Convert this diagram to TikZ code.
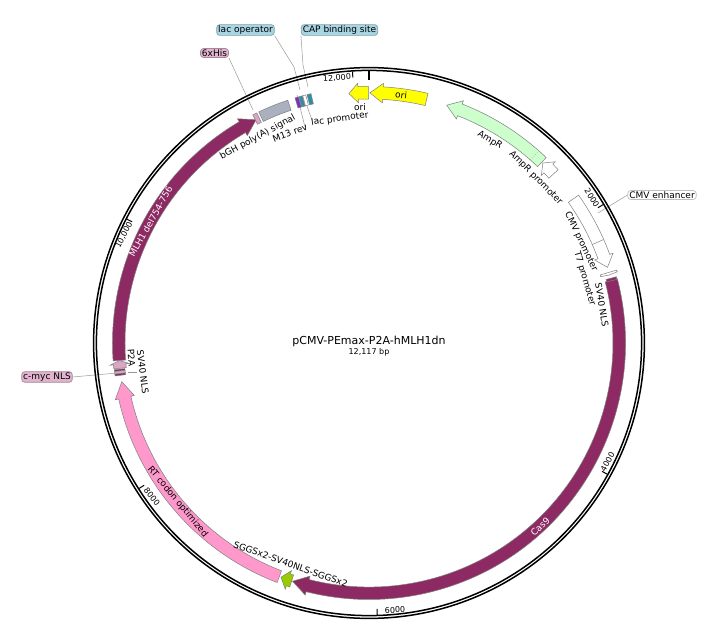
\documentclass[tikz,border=0pt]{standalone}
\usepackage{fontspec}
\setmainfont{DejaVu Sans}
\definecolor{cas9purple}{RGB}{142, 42, 99}
\definecolor{rtpink}{RGB}{255, 153, 204}
\definecolor{nlspink}{RGB}{217, 167, 196}
\definecolor{oriyellow}{RGB}{255, 255, 0}
\definecolor{amprgreen}{RGB}{204, 255, 204}
\definecolor{linkergreen}{RGB}{153, 204, 0}
\definecolor{polyagray}{RGB}{170, 176, 190}
\definecolor{m13violet}{RGB}{123, 47, 191}
\definecolor{lacteal}{RGB}{47, 142, 166}
\definecolor{tagblue}{RGB}{168, 213, 226}
\definecolor{tagpink}{RGB}{224, 180, 206}
\tikzset{
  feature/.style={draw=gray, line width=0.5pt},
  ringline/.style={draw=black, line width=1.5pt},
  leader/.style={draw=gray!80, line width=0.5pt},
  tagbox/.style={draw=#1!75!black, fill=#1, rounded corners=3pt, line width=0.7pt, inner xsep=1.5pt, inner ysep=1pt, font=\fontsize{9pt}{10pt}\selectfont},
  ticklabel/.style={font=\fontsize{8pt}{9pt}\selectfont, inner sep=0pt},
  featlabel/.style={font=\fontsize{9pt}{10pt}\selectfont, inner sep=0pt}
}
% tail, head base, tip
\newcommand{\featarrow}[4]{%
  \filldraw[feature, fill=#1] (#2:256.5) arc[start angle=#2, end angle=#3, radius=256.5pt] -- (#3:260) -- (#4:250.2) -- (#3:240.5) -- (#3:244) arc[start angle=#3, end angle=#2, radius=244pt] -- cycle;
}
\newcommand{\featband}[3]{%
  \filldraw[feature, fill=#1] (#2:256) arc[start angle=#2, end angle=#3, radius=256pt] -- (#3:245.5) arc[start angle=#3, end angle=#2, radius=245.5pt] -- cycle;
}

\begin{document}
\begin{tikzpicture}[x=1pt, y=1pt]
  \useasboundingbox (-369,-297) rectangle (351,343);
  \fill[white] (-369,-297) rectangle (351,343);

  % Callouts
  \node[tagbox=tagblue] (lacoperator) at (-123.5,313) {lac operator};
  \node[tagbox=tagblue] (capsite) at (-29.5,313) {CAP binding site};
  \node[tagbox=tagpink] (hishis) at (-154.5,290) {6xHis};
  \node[tagbox=white] (cmvenhancer) at (293,148) {CMV enhancer};
  \node[tagbox=tagpink] (cmycnls) at (-322,-34) {c-myc NLS};

  \coordinate (lacbend) at (-75,276);
  \coordinate (lacpin) at (-69,253);
  \coordinate (capbend) at (-66,278);
  \coordinate (cappin) at (-61,256);
  \coordinate (hispin) at (-116,233);
  \coordinate (enhpin) at (229,130);
  \coordinate (cmycpin) at (-252,-30);
  \coordinate (m13top) at (-72,248);
  \coordinate (m13end) at (-64,216);
  \coordinate (promtop) at (-66,248);
  \coordinate (promend) at (-57,223);
  \coordinate (t7in) at (234,67);
  \coordinate (t7out) at (249,72);
  \coordinate (sv40in) at (-241,-29);
  \coordinate (sv40out) at (-232,-29);

  \draw[leader] (lacoperator.south east) -- (lacbend) -- (lacpin);
  \draw[leader] (capsite.south west) -- (capbend) -- (cappin);
  \draw[leader] (hishis.south east) -- (hispin);
  \draw[leader] (cmvenhancer.west) -- (enhpin);
  \draw[leader] (cmycnls.east) -- (cmycpin);
  \draw[leader] (m13top) -- (m13end);
  \draw[leader] (promtop) -- (promend);
  \draw[leader] (t7in) -- (t7out);
  \draw[leader] (sv40in) -- (sv40out);

  % Backbone
  \draw[ringline] (0,0) circle (272.6pt);
  \draw[ringline] (0,0) circle (275.4pt);
  \foreach \bp in {2000,4000,6000,8000,10000,12000} {
    \draw[black, line width=1pt] ({90-\bp/12117*360}:272) -- ({90-\bp/12117*360}:266);
  }
  \draw[black, line width=1.5pt] (90:272) -- (90:263);
  \node[ticklabel, rotate=-58] (tick2000) at (223,145) {2000};
  \node[ticklabel, rotate=61] (tick4000) at (238.5,-119) {4000};
  \node[ticklabel, rotate=2] (tick6000) at (26,-267) {6000};
  \node[ticklabel, rotate=-52] (tick8000) at (-217,-154) {8000};
  \node[ticklabel, rotate=63] (tick10000) at (-245,108) {10,000};
  \node[ticklabel, rotate=4] (tick12000) at (-32,265) {12,000};

  % Features
  \featarrow{cas9purple}{14.5}{-104.2}{-107.8}
  \featband{cas9purple}{15}{14.4}
  \featarrow{cas9purple}{184}{120.4}{116.8}
  \featband{nlspink}{116}{117}
  \featband{polyagray}{115.5}{108.5}
  \featband{m13violet}{106.8}{106}
  \featband{lacteal}{105.9}{105.1}
  \featband{white}{105}{104.3}
  \featband{lacteal}{104}{103.1}
  \featarrow{oriyellow}{76.7}{86.8}{89.8}
  \featarrow{oriyellow}{90.1}{92.5}{94.6}
  \featarrow{amprgreen}{46.3}{68.7}{71.9}
  \draw[gray, line width=0.5pt, dotted] (48.6:244) -- (48.6:256.5);
  \featarrow{white}{42.5}{44.2}{46}
  \featarrow{white}{35.2}{20.2}{17.6}
  \draw[feature] (23.8:244) -- (23.8:256.5);
  \filldraw[feature, fill=white] (16.4:241) -- (16.4:258) -- (16:258) -- (15.8:249) -- (16:241) -- cycle;
  \featarrow{nlspink}{185.8}{184.9}{184}
  \featband{cas9purple}{186}{186.4}
  \featband{nlspink}{186.4}{187}
  \featband{cas9purple}{187}{187.4}
  \featarrow{rtpink}{249}{192.6}{188.9}
  \featarrow{linkergreen}{252}{251.2}{249.4}

  % Feature labels
  \node[featlabel, rotate=-7.4] (oriarrow) at (82.6:250) {ori};
  \node[featlabel, rotate=60.9, text=white] (mlh1) at (150.9:250) {MLH1 del754-756};
  \node[featlabel, rotate=-50.3] (rtcodon) at (219.7:248.7) {RT codon optimized};
  \node[featlabel, rotate=43, text=white] (cas9) at (313:251) {Cas9};
  \node[featlabel, rotate=28.4] (bgh) at (118.4:234) {bGH poly(A) signal};
  \node[featlabel, rotate=20.6] (m13rev) at (110.6:224.5) {M13 rev};
  \node[featlabel, rotate=7.4] (lacpromoter) at (97.4:226) {lac promoter};
  \node[featlabel, rotate=-30.8] (ampr) at (59.2:236) {AmpR};
  \node[featlabel, rotate=-45.3] (amprpromoter) at (44.7:234.6) {AmpR promoter};
  \node[featlabel, rotate=-64.5] (cmvpromoter) at (25.5:235) {CMV promoter};
  \node[featlabel, rotate=-73.4] (t7promoter) at (16.6:225) {T7 promoter};
  \node[featlabel, rotate=-80.7] (sv40right) at (9.3:236) {SV40 NLS};
  \node[featlabel, rotate=-82.7] (sv40left) at (187.3:228) {SV40 NLS};
  \node[featlabel, rotate=-86.5] (p2a) at (183.5:238) {P2A};
  \node[featlabel, rotate=-19.5] (linker) at (250.5:234.8) {SGGSx2-SV40NLS-SGGSx2};
  \node[featlabel] (orilabel) at (-9,236) {ori};

  % Centre
  \node[font=\fontsize{11pt}{12pt}\selectfont, inner sep=0pt] (plasmidname) at (0,1.5) {pCMV-PEmax-P2A-hMLH1dn};
  \node[ticklabel] (plasmidsize) at (0,-9) {12,117 bp};
\end{tikzpicture}
\end{document}
